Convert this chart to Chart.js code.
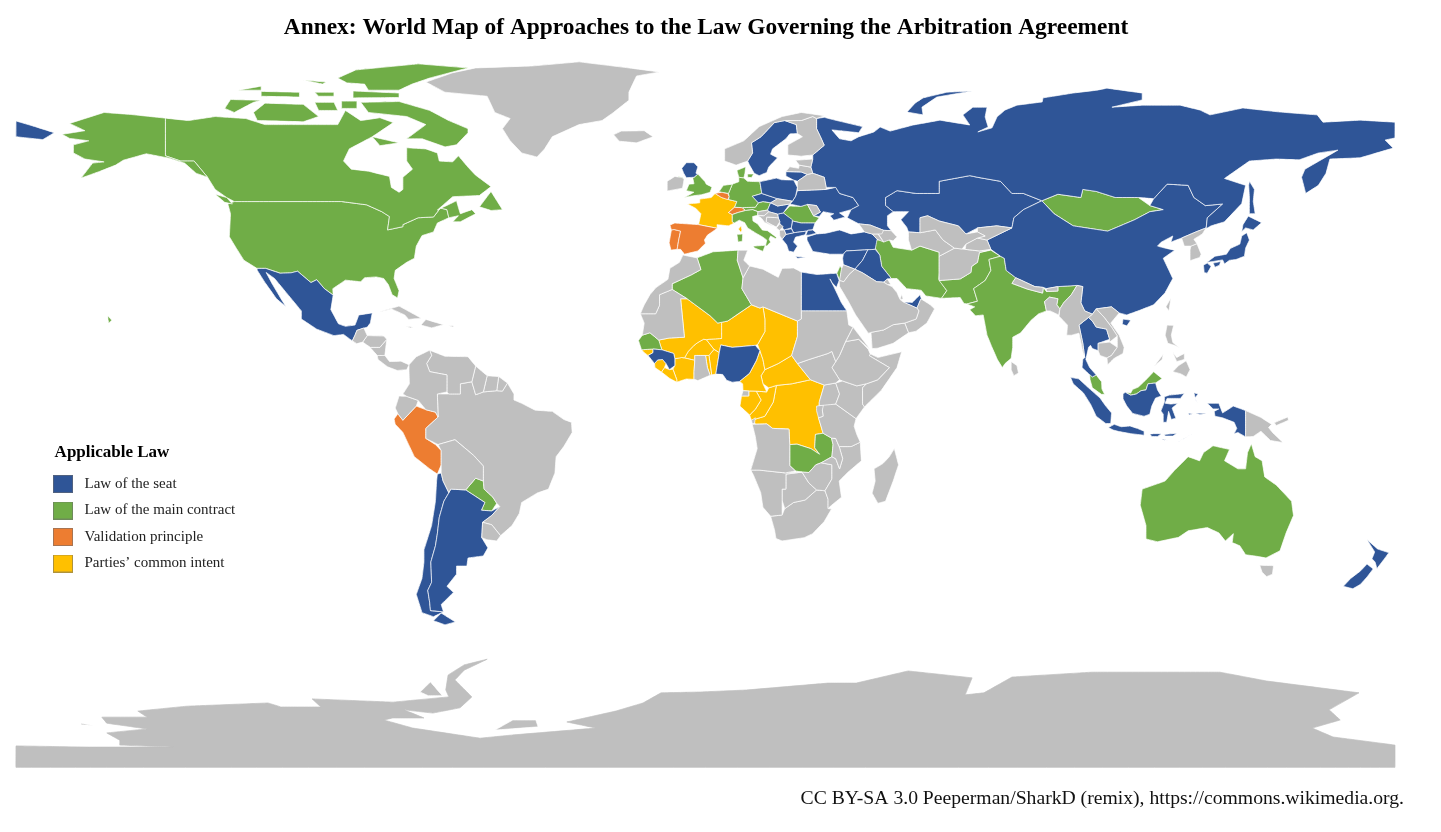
<!DOCTYPE html>
<html><head><meta charset="utf-8"><title>World Map of Approaches</title>
<style>html,body{margin:0;padding:0;background:#fff}canvas{display:block}</style>
<script src="https://cdn.jsdelivr.net/npm/chart.js@4"></script></head>
<body><canvas id="c" width="1441" height="832"></canvas>
<script>
const categories = ["Law of the seat","Law of the main contract","Validation principle","Parties’ common intent"];
const colours = ["#2F5597","#70AD47","#ED7D31","#FFC000"];
const otherColour = "#BFBFBF";

const seatLand = [
 ["Russia",[[28,60.5],[31,62.9],[30,65],[29,67],[29,69.5],[31,69.8],[33,69.3],[41,67.5],[40,66],[35,66.5],[33,66.7],[35,64.5],[38,64],[40,65],[44,66.2],[45.6,67.4],[48.2,66.4],[54.2,67.9],[61.2,69.1],[69,67.9],[67.2,70.4],[69.8,72.3],[73.5,72.3],[73,69.9],[73.8,67.4],[71.1,66.2],[74.8,67.2],[76.1,69.9],[78.2,71.6],[81.3,72.8],[87.9,73.6],[88.1,74.6],[96,75.8],[102.2,76.5],[104.8,77],[114,75.8],[114,74.1],[106.1,72.3],[114.2,72.8],[123.9,72.8],[129.1,71.6],[131.7,70.4],[140.3,72.1],[150,71.1],[159.7,70.4],[161.2,68.6],[170.9,69.1],[180,68.6],[180,64.7],[177.4,64.2],[179.5,62.2],[170.9,59.8],[163,59.5],[162,56],[160,53],[156.7,51],[155.6,55],[156.5,57],[165.1,61.7],[160,61],[155,59.3],[149,59.5],[142,59],[135.5,54.7],[141,53],[140,48.5],[135.5,44],[132,43],[130.7,42.3],[131,45],[135,48.4],[130.5,48],[127.5,50],[126,53],[120.5,53.3],[117,49.7],[113,50],[107,50],[102,51.5],[98.5,52],[98,50],[92,50.8],[87.8,49.2],[83,51],[80,51],[77,54],[71,55],[69,55.4],[61,54],[61,51],[55,51],[50,51.7],[47,50],[47,48],[49,46.5],[47.5,45.5],[47.5,43],[48.5,41.8],[46.5,41.9],[43,43.2],[40,43.5],[37,45],[38,47],[40,48],[38.5,50],[35,51],[34,52.5],[31.5,52.5],[31,55],[28,56],[27.5,57.5],[28,59.5]]],
 ["Chukotka",[[-180,68.9],[-175,67.5],[-170,66],[-173,64.3],[-180,65]]],
 ["Novaya Zemlya",[[52.6,71.1],[56.8,70.4],[56.5,72.3],[60.4,74.8],[69.6,76.3],[63,76],[56.8,74.6],[54.7,73.3]]],
 ["Sakhalin",[[142,54],[143.3,52],[143,49],[143.5,46],[142,46],[142,50],[141.8,53]]],
 ["China",[[73.5,39.5],[80,42.5],[80.5,45],[83,47],[87.8,49.2],[91,46],[96,43],[105,41.7],[112,44.5],[116,46.5],[119.5,47],[116,48],[117,49.7],[120.5,53.3],[126,53],[127.5,50],[130.5,48],[135,48.4],[131,45],[130.7,42.5],[128,41.5],[124.3,40],[121.5,39],[122,40.5],[119,39],[118,38],[120,37.5],[122.5,37],[119.5,35],[121,32],[122,30],[120,26.5],[117,23.5],[113.5,22.2],[110,21],[108,21.5],[106,23],[102,22.5],[101,21.2],[99,22],[98,24],[98.5,28],[97,28.3],[92,28],[89,27.5],[88.2,27.8],[86,28],[81,30.2],[78.5,32],[78,35],[77,35.5],[74.5,37.2]]],
 ["Hainan",[[109,20],[111,19.7],[110,18.3],[108.8,18.7]]],
 ["Honshu",[[130.9,34],[133,35.5],[136,36],[137,37.4],[139.5,38.5],[140,40.5],[141.3,41.3],[142,39.5],[141,37.5],[140.7,35.5],[138.5,34.7],[136.8,34.5],[135.5,33.6],[135,34.6],[132.5,34.2]]],
 ["Hokkaido",[[140,41.6],[140.3,43.3],[141.7,45.4],[145.2,43.8],[143,42],[141,42.5]]],
 ["Kyushu",[[130,33.3],[131,33.8],[132,33],[131,31.3],[130.2,31.5]]],
 ["Shikoku",[[132.5,33.8],[134.5,34.2],[134.2,33.3],[133,32.8]]],
 ["Kazakhstan",[[47,48],[47,50],[50,51.7],[55,51],[61,51],[61,54],[69,55.4],[71,55],[77,54],[80,51],[83,51],[87.8,49.2],[83,47],[80.5,45],[80,42.5],[76,43],[71,42.5],[68,41],[66,43],[61,44.2],[58,45.5],[56,45],[56,41.3],[53,41.5],[52.5,42.7],[51,44.5],[53,46.5],[49,46.5]]],
 ["Iraq",[[42.4,37.1],[44.3,37.2],[45.5,35.8],[46,33],[48.5,30],[47.5,29.9],[46.5,29.1],[44.7,29.2],[41,31.4],[39,32.3],[41,34.5]]],
 ["Syria",[[36,36],[36.7,36.8],[42.4,37.1],[41,34.5],[39,32.3],[36,33.4],[35.8,35]]],
 ["Turkey",[[26.5,39.5],[26.5,40.3],[29,41],[31.5,41.2],[35,42],[38,41],[41.5,41.5],[43.5,41],[44.8,39.7],[44.3,37.2],[42.4,37.1],[36.7,36.8],[36,36],[32.5,36],[30.5,36.3],[28,36.7],[27.3,38]]],
 ["Thrace",[[26.2,40.7],[26.7,41.9],[28,42],[29,41.2],[27,40.7]]],
 ["UAE",[[51.6,24.2],[54,24.1],[56,26],[56.4,24.9],[56.2,24.9],[55.2,22.7]]],
 ["Egypt",[[25,31.6],[29,31],[32.3,31.2],[34.2,31.3],[34.9,29.5],[34.2,27.8],[33,29],[32.5,29.9],[33.5,28],[35.5,24],[36.9,22],[25,22]]],
 ["Thailand",[[97.5,18.5],[100,20.4],[101,19.5],[102,18],[104.7,17.5],[105.5,15],[102.5,14],[102.5,12.2],[101,12.7],[100.5,13.5],[100,13],[99.3,10],[100.3,8],[102,6.2],[101,5.7],[100,6.5],[98.3,8],[98.5,10],[99,10.5],[98.5,14]]],
 ["Kalimantan",[[109,1.5],[109.6,1.9],[111,1.2],[112.5,1.5],[113.7,2.3],[115,2.5],[115.5,4],[117.5,4.2],[118,2.5],[119,1],[117.5,0.5],[116.5,-1.5],[116,-3.5],[114.5,-4],[111.5,-3.3],[110,-1.5],[109,0.3]]],
 ["Sumatra",[[95.3,5.6],[97.5,5.2],[100,3],[103,0.5],[104.5,-1.5],[106,-3.2],[105.8,-5.8],[104.5,-5.8],[102,-4],[100.5,-1],[98.7,1.7],[96,4]]],
 ["Java",[[105.2,-6.8],[106.7,-6],[108.5,-6.6],[110.8,-6.4],[112.7,-7],[114.5,-7.7],[114.5,-8.7],[111,-8.3],[108,-7.8],[106.4,-7.4]]],
 ["Sulawesi",[[119.8,0.8],[121,1.2],[125,1.6],[124,0.4],[120.5,0.4],[120,-0.8],[121.5,-1],[123.3,-0.8],[121.8,-2],[122.8,-4.5],[121.6,-4.8],[120.9,-2.8],[120.4,-5.5],[119.5,-5.5],[119.5,-3.5],[118.9,-2.7],[119.8,-0.5]]],
 ["Lombok Sumbawa",[[116,-8.4],[117,-8.3],[119,-8.3],[118,-9],[116.5,-9]]],
 ["Flores",[[119.8,-8.5],[123,-8.2],[122,-8.9],[120,-8.9]]],
 ["Sumba",[[119.2,-9.6],[120.8,-10],[119.5,-9.9]]],
 ["Timor",[[123.5,-10.3],[127,-8.4],[125,-9.5]]],
 ["Halmahera",[[127.5,1.8],[128,0],[128.5,-0.8],[127.8,0.5],[128.6,1.5]]],
 ["Seram",[[128,-3.2],[130.8,-3.3],[129,-3.6]]],
 ["Buru",[[126,-3.2],[127.2,-3.4],[126.3,-3.7]]],
 ["Papua",[[131,-0.8],[134,-0.8],[135,-3.2],[137.8,-1.5],[141,-2.6],[141,-9.1],[139,-8],[138,-8.3],[138.7,-7],[138,-5.5],[135,-4.4],[133,-4],[132.8,-2.8],[134,-2.2],[132.5,-2.2]]],
 ["North Island",[[172.7,-34.5],[175.5,-36.8],[178.4,-37.7],[177,-39.5],[175.3,-41.6],[174.8,-40],[174,-39.2],[174.7,-37.5]]],
 ["South Island",[[172.7,-40.5],[174.3,-41.7],[172.7,-43.7],[171,-45.5],[169,-46.6],[166.5,-46],[168.5,-44],[171,-42.2]]],
 ["Mexico",[[-117.1,32.5],[-114.8,32.5],[-111,31.3],[-108.2,31.4],[-106.5,31.8],[-103,29],[-101.5,29.7],[-99.5,27.5],[-97.2,25.9],[-97.8,22.3],[-95.8,18.8],[-94,18.2],[-91.5,18.5],[-90.5,21],[-87,21.5],[-87.5,19],[-88.3,18],[-91,17.2],[-91.5,16],[-92.2,14.6],[-94.5,16.2],[-97,15.9],[-101.5,17.5],[-105.5,20],[-105.5,22],[-109,26],[-112.5,30],[-114.7,31.5],[-113,28.5],[-110.5,24.5],[-109.5,23],[-112,25],[-115,29],[-117,32]]],
 ["Argentina",[[-66.5,-22],[-62.6,-22.2],[-57.6,-25.3],[-58.5,-27.2],[-55.8,-27.4],[-53.7,-26.3],[-55.8,-28.5],[-58.2,-30.2],[-58.4,-34],[-56.8,-36.5],[-58,-38.5],[-62,-39],[-62.3,-41],[-65,-41],[-65,-43],[-67.5,-46],[-65.8,-47.5],[-69,-50.5],[-68.4,-52.3],[-71.8,-52],[-72,-50],[-72.5,-47],[-71.5,-45],[-71.7,-40],[-70.5,-36],[-70,-33],[-69.5,-29],[-68.3,-25],[-67,-22.9]]],
 ["Chile",[[-70,-18.3],[-69,-18],[-68.5,-20],[-67,-22.9],[-68.3,-25],[-69.5,-29],[-70,-33],[-70.5,-36],[-71.7,-40],[-71.5,-45],[-72.5,-47],[-72,-50],[-71.8,-52],[-68.4,-52.3],[-71,-53.5],[-74,-52.5],[-75.5,-48],[-74,-44],[-73.5,-40],[-73.5,-37],[-71.5,-31],[-70.5,-25],[-70.2,-20]]],
 ["Tierra del Fuego",[[-69,-52.6],[-65.3,-54.8],[-68,-55.5],[-71,-54.5]]],
 ["Scotland",[[-5,58.6],[-3,58.6],[-2,57.6],[-2.5,56],[-2,55.8],[-3,55],[-5,54.9],[-5.7,56],[-6.2,57.2]]],
 ["Sweden",[[11,59],[12.3,61],[12,63.5],[14.5,65],[18,68.5],[20.7,69],[23.7,68],[24,65.8],[22,65.7],[21,64.5],[17.5,62],[17,60.7],[18.8,59.8],[16.5,57.5],[16,56.2],[14,55.4],[12.7,56],[11.5,58]]],
 ["Poland",[[14.2,53.9],[18.5,54.8],[19.8,54.4],[23,54.3],[24,52.5],[23.5,50.3],[22.7,49.1],[18.8,49.7],[14.7,51]]],
 ["Czechia",[[12.2,50.3],[14.7,51],[18.8,49.7],[17,48.7],[15,49],[13.8,48.7]]],
 ["Hungary",[[16.2,46.9],[17,48.7],[18.8,47.9],[22,48.4],[20.3,46.2],[18.8,45.9],[16.5,46.5]]],
 ["Serbia",[[18.8,45.9],[20.3,46.2],[22.7,44.5],[22.4,42.5],[20.5,42],[19.4,43.5],[19.4,44],[19,45]]],
 ["North Macedonia",[[20.5,42],[22.4,42.3],[23,41.3],[21,40.9]]],
 ["Greece",[[20,39.7],[21,40.9],[23,41.3],[26.3,41.7],[26,40.8],[23.5,40.2],[23,39],[24,38],[23,36.5],[21.7,36.8],[21.2,38.3]]],
 ["Crete",[[23.5,35.5],[26.2,35.2],[24,35]]],
 ["Bulgaria",[[22.7,44.2],[25,43.7],[28.6,43.7],[28,42],[26.7,41.9],[26.3,41.7],[23,41.3],[22.4,42.5]]],
 ["Ukraine",[[22.7,49.1],[23.5,50.3],[24,51.7],[31.5,52],[34,52.5],[35,51],[38.5,50],[40,48],[38,47],[35,46.2],[36.5,45.2],[33.5,44.4],[32.5,45.5],[33.5,46],[30.7,46.5],[29.7,45.3],[28.2,45.5],[30,46.4],[29,48],[26.6,48.3],[24.9,47.8],[22,48.4]]],
 ["Lithuania",[[21,55.3],[21,56.4],[25,56.3],[26.6,55.7],[24,54],[23,54.3]]],
 ["Guinea",[[-15,11],[-13.7,11.7],[-13.7,12.6],[-11.4,12.4],[-8.3,11.5],[-8,10.2],[-8,8.5],[-9.4,7.5],[-10.3,9],[-11.2,10],[-12.5,9.9],[-13.3,9]]],
 ["Nigeria",[[2.7,6.4],[3.6,11.7],[4,13.6],[7,13],[13,13.5],[14.2,12.2],[13.3,9.8],[11.5,6.6],[8.9,4.6],[7,4.4],[5.5,4.9],[4.5,6.3]]]
];

const contractLand = [
 ["Alaska",[[-141,69.6],[-141,60.3],[-137,59],[-133.5,59],[-130,55],[-133,56],[-136,58.5],[-140,59.7],[-146,60.8],[-149,60],[-152,59.2],[-154,58],[-158,56.5],[-163,54.8],[-160,58.5],[-157,58.8],[-162,59.5],[-165,61],[-165,63],[-161,64],[-166,64.6],[-168,65.6],[-162,66.5],[-166,68.3],[-157,71],[-150,70.5]]],
 ["Canada",[[-141,69.6],[-135,69],[-128,70],[-120,69.5],[-115,68],[-108,68],[-102,68],[-96,68],[-94,71.5],[-90,69],[-85,69.7],[-81.5,68.5],[-87,65],[-93,62],[-94.5,59],[-92.5,57],[-88,56.5],[-82.5,55.2],[-82,52.5],[-80,51.3],[-79,52],[-79,55],[-76.5,57],[-78,59],[-78,62.3],[-73,62],[-70,61],[-69.5,59],[-66,58.8],[-64.5,60.3],[-62,57.5],[-60,55.5],[-56,52.7],[-59,50.5],[-66,50.2],[-70,46.9],[-65,49.2],[-64.5,47.5],[-64,46],[-61,47],[-60,46],[-64,44],[-66,44],[-64.5,45.5],[-67,45],[-67.5,47],[-69.2,47.4],[-71,45.2],[-75,45],[-79,43.3],[-79,42.8],[-83,42],[-82.5,45.3],[-84.5,46.5],[-88.5,48.2],[-95,49],[-123,49],[-125,50],[-128,52],[-130,55],[-133.5,59],[-137,59],[-141,60.3]]],
 ["Newfoundland",[[-59,47.7],[-56,51.5],[-53,47],[-56,46.8]]],
 ["Vancouver Island",[[-128,50.8],[-125,50],[-123.5,48.4],[-125.5,48.8]]],
 ["Baffin",[[-62,66],[-65,63],[-68,62.5],[-74,64.5],[-78,64.5],[-73,68],[-78,70],[-88,71],[-90,73.5],[-80,73.7],[-72,71.5],[-67,69],[-62,67]]],
 ["Victoria Island",[[-117,69],[-105,68.7],[-101,70],[-105,73],[-115,73.3],[-118,71]]],
 ["Banks Island",[[-123,71],[-118,73.5],[-116,74],[-124,74.2],[-125.5,72]]],
 ["Southampton",[[-87,65],[-80,63.5],[-85,62.8]]],
 ["Ellesmere",[[-96,79.5],[-91.3,81.5],[-75,83],[-62,82],[-72,79.5],[-76.6,78],[-80,76.5],[-88,76.5],[-89,78],[-93.6,78.3]]],
 ["Devon",[[-92,76.3],[-80,75.8],[-80,74.7],[-92,74.6]]],
 ["Melville",[[-116,76.2],[-106,76],[-106,74.8],[-116,75]]],
 ["Prince Patrick",[[-122,76.5],[-116,77.5],[-116,76.5]]],
 ["Bathurst",[[-102,76],[-97,76],[-97,75],[-101,75]]],
 ["Somerset",[[-95,73.8],[-91,73.8],[-91,72],[-95,72]]],
 ["Prince of Wales",[[-102,73.5],[-97,73.5],[-96,71.5],[-101,71.5]]],
 ["Ellef Ringnes",[[-105,79],[-99,78.5],[-100,78]]],
 ["USA",[[-123,49],[-95,49],[-88.5,48.2],[-84.5,46.5],[-82.5,45.3],[-83,42],[-79,42.8],[-79,43.3],[-75,45],[-71,45.2],[-69.2,47.4],[-67.5,47],[-67,45],[-70,43.7],[-71,41.5],[-74,40.6],[-75.5,38],[-76,35],[-78,34],[-81,32],[-81.3,30],[-80,27],[-80.4,25.2],[-81.8,26],[-82.8,28.5],[-84,30],[-86,30.4],[-89,30.2],[-90,29.2],[-94,29.6],[-97.3,27.5],[-97.2,25.9],[-99.5,27.5],[-101.5,29.7],[-103,29],[-106.5,31.8],[-108.2,31.4],[-111,31.3],[-114.8,32.5],[-117.1,32.5],[-120.5,34.5],[-122.5,37.5],[-124.3,40.3],[-124,46],[-124.7,48.4]]],
 ["Hawaii",[[-156,20.8],[-155,19.7],[-155.8,19],[-156,20]]],
 ["Mongolia",[[87.8,49.2],[92,50.8],[98,50],[98.5,52],[102,51.5],[107,50],[113,50],[116,48],[119.5,47],[116,46.5],[112,44.5],[105,41.7],[96,43],[91,46]]],
 ["India",[[78,35],[78.5,32],[81,30.2],[80,28.8],[84,27.4],[88,26.4],[88.2,27.8],[89,26.8],[92,26.9],[92,28],[97,28.3],[95.5,26],[93.5,24],[92.5,22.5],[91.7,23.5],[92,25],[89.8,25.4],[88.5,24.3],[89,22],[87,21.3],[85,19.7],[82.3,16.6],[80.2,15.5],[80.2,13],[79.8,10.3],[78.2,9],[77.5,8],[76.2,10],[74.8,13],[73.5,16],[72.8,19.5],[72.5,21],[70.5,20.8],[69,22.3],[70.3,23],[68.2,23.7],[71,24.4],[70,27.5],[73,29.5],[74.5,32],[74,34.7],[77,35.5]]],
 ["Pakistan",[[74.5,37],[71.5,36.4],[71,34],[69.5,33],[69.3,31.5],[66.5,29.9],[61,29.5],[63,27],[61.6,25.1],[66.5,25.3],[67.5,23.8],[68.2,23.7],[71,24.4],[70,27.5],[73,29.5],[74.5,32],[74,34.7],[77,35.5]]],
 ["Iran",[[44.5,39.5],[48,39.5],[49,37.7],[53.8,37],[56,38],[61,36.5],[61,31.5],[60.9,29.8],[63,27],[61.6,25.1],[57.5,25.7],[56.3,27.1],[52.5,27.5],[50,30],[48.5,30],[46,33],[45.5,35.8],[44.3,37.5]]],
 ["Israel",[[34.3,31.3],[35.1,33],[35.6,32.5],[35,29.5]]],
 ["Peninsular Malaysia",[[100.3,6.5],[101,5.7],[102,6.2],[103.4,4.5],[103.5,2.7],[104.2,1.4],[103.4,1.4],[101,3],[100.4,5]]],
 ["East Malaysia",[[109.6,1.9],[111,1.2],[112.5,1.5],[113.7,2.3],[115,2.5],[115.5,4],[117.5,4.2],[119.2,5.3],[117,7],[115,5],[113,3.2],[111.5,2.6],[111,1.7]]],
 ["Australia",[[114,-22],[113.5,-26],[115,-31],[115,-34.3],[118,-35],[123.5,-33.9],[126,-32.3],[131,-31.5],[134,-32.8],[135.7,-34.8],[137.8,-33],[137.5,-35.2],[139.5,-36],[141,-38.2],[144,-38.6],[146.3,-39],[150,-37.2],[151.5,-33],[153.5,-28.5],[153,-25],[149,-21],[146,-19],[145.3,-15],[143.5,-14],[142.5,-10.8],[141.5,-13],[141,-17],[139,-17],[135.5,-15],[136.8,-12.2],[132.5,-11.3],[130,-13],[129,-15],[126,-14],[122.5,-17.3],[120,-20]]],
 ["Paraguay",[[-62.6,-22.2],[-60,-19.3],[-58,-20],[-57.8,-22],[-55.5,-24],[-54.5,-25.5],[-55.8,-27.4],[-58.5,-27.2],[-57.6,-25.3]]],
 ["Algeria",[[-8.7,28.7],[-3.7,30.9],[-1.2,32.2],[-2.2,35.1],[2,36.6],[8.5,37],[8.3,34.5],[9.8,30.2],[9.5,27.5],[12,23.5],[5.8,19.5],[3.2,19],[1.2,20.8],[-4.8,25],[-8.7,27.3]]],
 ["Senegal",[[-17.5,14.7],[-16.5,16],[-14.5,16.6],[-12.2,14.8],[-11.4,12.4],[-13.7,12.6],[-16.7,12.4]]],
 ["Gambia",[[-16.8,13.5],[-14,13.6],[-14,13.2],[-16.8,13.1]]],
 ["Zambia",[[22,-11],[23.9,-10.9],[27.5,-12],[29.8,-13.4],[28.5,-11.8],[28.7,-8.5],[30.7,-8.2],[32.9,-9.4],[33.3,-11],[33,-14],[30.2,-15.5],[28.8,-16],[27,-17.9],[25.2,-17.8],[23.5,-17.5],[22,-16.2]]],
 ["England and Wales",[[-3,55],[-2,55.8],[-0.2,54],[0.2,53.3],[1.7,52.6],[1.2,51.3],[-1,50.7],[-3.5,50.4],[-5.5,50],[-3,51.3],[-5,51.7],[-4.3,53.3],[-3,53.4],[-3.3,54.7]]],
 ["Northern Ireland",[[-8,54.5],[-7,55.2],[-6,55],[-5.6,54.4],[-6.5,54]]],
 ["Italy",[[7,45.8],[8.5,46.3],[10.5,46.8],[12.3,47],[13.7,46.5],[13.6,45.6],[12.3,45.3],[12.4,44.2],[13.6,43.5],[14.8,42],[16.2,41.8],[18.5,40.2],[18.4,39.8],[17,40.5],[16.6,39.7],[17,39],[16,38],[15.7,38.2],[16,39.5],[15,40.2],[13,41.3],[11,42.5],[10.2,43.8],[8.8,44.4],[7.5,43.7],[7,44]]],
 ["Sicily",[[12.5,38],[15.6,38.2],[15,36.7],[12.7,37.6]]],
 ["Sardinia",[[8.2,40.9],[9.7,41],[9.6,39.2],[8.5,39]]],
 ["Netherlands",[[3.5,51.4],[4.7,53],[7,53.3],[6,51],[4.2,51.3]]],
 ["Germany",[[6,51],[7,53.3],[8.7,53.9],[8.7,55],[10,54.8],[11,54],[14.2,53.9],[14.7,51],[12.2,50.3],[13.8,48.7],[13,47.6],[9.6,47.5],[7.6,47.6],[8.2,49],[6,49.5],[6.2,50.2]]],
 ["Jutland",[[8.2,56.7],[10.5,57.6],[10.3,56],[10,54.8],[8.7,55]]],
 ["Zealand",[[11,55.8],[12.6,55.8],[12,54.9],[11,55]]],
 ["Austria",[[9.6,47.5],[13,47.6],[13.8,48.7],[15,49],[17,48.7],[16.2,46.9],[13.7,46.5],[12.3,47],[10.5,46.8]]],
 ["Romania",[[20.3,46.2],[22,47.9],[24.9,47.8],[26.6,48.3],[28.2,45.5],[29.7,45],[28.6,43.7],[25,43.7],[22.7,44.2]]]
];

const validationLand = [
 ["Spain",[[-9.3,43.2],[-8,43.7],[-1.8,43.3],[3.1,42.4],[0.5,40.7],[-0.3,39.5],[0,38.7],[-2,36.8],[-5.5,36],[-6.5,37.2],[-7.4,37.2],[-7,39.5],[-6.5,41.7],[-8.2,42.1],[-8.9,42]]],
 ["Portugal",[[-8.9,42],[-8.2,42.1],[-6.5,41.7],[-7,39.5],[-7.4,37.2],[-9,37],[-9.5,38.8]]],
 ["Switzerland",[[6,46.3],[7.6,47.6],[9.6,47.5],[10.4,46.8],[8.5,46.3],[7,45.8]]],
 ["Belgium",[[2.5,51],[4.2,51.3],[5.8,51],[6.2,50.2],[5.8,49.5],[4.2,50]]],
 ["Peru",[[-81.3,-4.7],[-80.3,-3.4],[-79,-5],[-75.5,-1.5],[-73,-2.4],[-70.5,-3],[-69.8,-4.2],[-73,-7],[-73,-9.5],[-70.5,-11],[-69,-12.5],[-69,-16],[-70,-18.3],[-72,-17],[-76,-14],[-79,-8],[-81,-6]]]
];

const intentLand = [
 ["France",[[-4.7,48.4],[-1.5,48.7],[-1.5,49.6],[1.5,50],[2.5,51],[4.2,50],[6,49.5],[8.2,49],[7.6,47.6],[6,46.3],[7,45.8],[7,44],[7.5,43.7],[6,43],[3,43.3],[3.1,42.4],[-1.8,43.3],[-1.2,46],[-2.5,47.3]]],
 ["Corsica",[[9.3,43],[9.5,42],[9.2,41.4],[8.6,42.2]]],
 ["Mali",[[-6.5,25],[-4.8,25],[1.2,20.8],[3.2,19],[4.2,19.2],[4.2,16.8],[4.2,15.2],[1,15],[0.2,14.9],[-0.5,15],[-2,14.2],[-3,13.5],[-4.5,12],[-5.5,10.4],[-6.2,10.5],[-8,10.2],[-8.3,11.5],[-11.4,12.4],[-12.2,14.8],[-9.5,15.3],[-5.5,15.5]]],
 ["Guinea-Bissau",[[-16.7,12.4],[-13.7,12.6],[-13.7,11.7],[-15,11],[-16,11.7]]],
 ["Sierra Leone",[[-13.3,9],[-12.5,9.9],[-11.2,10],[-10.3,9],[-10.7,8],[-11.5,6.9],[-13.2,8]]],
 ["Liberia",[[-11.5,6.9],[-10.7,8],[-9.4,7.5],[-8.5,7.6],[-7.5,5],[-7.5,4.4],[-9.3,5.3]]],
 ["Ivory Coast",[[-7.5,4.4],[-7.5,5],[-8.5,7.6],[-8,8.5],[-8,10.2],[-6.2,10.5],[-5.5,10.4],[-2.8,9.8],[-3,7],[-3,5.1],[-5,5.2]]],
 ["Burkina Faso",[[-5.5,10.4],[-4.5,12],[-3,13.5],[-2,14.2],[-0.5,15],[0.2,14.9],[2.2,12.5],[0.9,11],[0,11],[-2.8,11],[-2.8,9.8]]],
 ["Togo",[[0,11],[0.9,11],[1.6,6.2],[1.2,6.1],[0.5,8]]],
 ["Benin",[[0.9,11],[2.2,12.5],[3.6,11.7],[2.7,6.4],[1.6,6.2]]],
 ["Niger",[[4.2,19.2],[5.8,19.5],[12,23.5],[14.2,22.7],[15,23],[15.5,20],[15.5,16.9],[13.6,13.7],[13,13.5],[7,13],[4,13.6],[3.6,11.7],[2.2,12.5],[0.2,14.9],[1,15],[4.2,15.2],[4.2,16.8]]],
 ["Chad",[[15,23],[24,19.5],[24,15.7],[22.5,11],[19,9],[15.5,7.5],[15,10],[14.2,12.2],[13.6,13.7],[15.5,16.9],[15.5,20]]],
 ["Cameroon",[[8.9,4.6],[11.5,6.6],[13.3,9.8],[14.2,12.2],[15,10],[15.5,7.5],[14.5,6],[15,4],[16,2],[13.2,2.2],[9.8,2.3],[9.7,4]]],
 ["Central African Republic",[[14.5,6],[15.5,7.5],[19,9],[22.5,11],[24,9],[27.4,5],[22.5,4],[18.5,3.6],[16.5,3],[15,4]]],
 ["Gabon",[[9.4,1],[11.3,1],[11.3,2.2],[13.2,2.2],[14.5,0],[13,-2.3],[11.5,-3.7],[9,-1.5]]],
 ["Congo",[[13.2,2.2],[16,2],[16.5,3],[18.5,3.6],[17.7,-0.5],[15.5,-4],[12,-5],[11.5,-3.7],[13,-2.3],[14.5,0]]],
 ["DR Congo",[[12.2,-6],[13,-5.8],[12,-5],[15.5,-4],[17.7,-0.5],[18.5,3.6],[22.5,4],[27.4,5],[31,3.7],[29.7,-0.5],[29.5,-4.4],[30.7,-8.2],[28.7,-8.5],[28.5,-11.8],[29.8,-13.4],[27.5,-12],[23.9,-10.9],[22,-11],[21.8,-7.2],[17.5,-7],[16,-5.9]]]
];

const otherLand = [
 ["Greenland",[[-73,78.5],[-66,80.8],[-60,82],[-45,82.5],[-33,83.5],[-20,82],[-12,81],[-18,80],[-20,76],[-20,74],[-24,71],[-27,69],[-33,68],[-40,65],[-42,62],[-44,60],[-48,61],[-51,64],[-53,67],[-51,69.5],[-55,71],[-57,75],[-68,76],[-71,77.5]]],
 ["Iceland",[[-24,65.5],[-22,66.4],[-16,66.5],[-13.7,65],[-18,63.5],[-22.5,63.9]]],
 ["Ireland",[[-10,54],[-8,55.2],[-6,54.9],[-5.6,54.4],[-6,52.3],[-10,51.6]]],
 ["Norway",[[5,59],[5,62],[10,64],[14,67.5],[20,70],[25,71],[31,70.2],[29,69.5],[28,70],[25,69],[20.7,69],[18,68.5],[14.5,65],[12,63.5],[12.3,61],[11,59],[8,58]]],
 ["Finland",[[21.5,60.5],[25,60.2],[28,60.5],[31,62.9],[30,65],[29,67],[29,69.5],[28,70],[25,69],[20.7,69],[23.7,68],[24,65.8],[25.3,65],[21.5,63],[21.5,61]]],
 ["Estonia",[[23.5,59.2],[28,59.5],[27.5,57.5],[24.5,58]]],
 ["Latvia",[[21,56.4],[22,57.6],[24.3,57.2],[24.5,58],[27.5,57.5],[28,56],[26.6,55.7],[25,56.3]]],
 ["Belarus",[[24,52.5],[24,51.7],[31.5,52],[31.5,52.5],[31,55],[28,56],[26.6,55.7],[24,54]]],
 ["Moldova",[[26.6,48.3],[29,48],[30,46.4],[28.2,45.5]]],
 ["Slovakia",[[17,48.7],[18.8,49.7],[22.5,49.1],[22,48.4],[18.8,47.9]]],
 ["Slovenia",[[13.6,45.6],[13.7,46.5],[16.2,46.9],[16.5,46.5],[15.3,45.5]]],
 ["Croatia",[[13.6,45.5],[15.3,45.5],[16.5,46.5],[18.8,45.9],[19,45],[16,45.2],[15.8,44],[18.5,42.5],[15.5,43.8],[14.5,45]]],
 ["Bosnia",[[16,45.2],[19,45],[19.4,44],[18.5,42.7],[15.8,44]]],
 ["Montenegro",[[18.5,42.5],[19.4,43.5],[20.3,42.8],[19.3,41.9]]],
 ["Albania",[[19.3,41.9],[20.5,42],[21,40.9],[20,39.7],[19.4,40.5]]],
 ["Georgia",[[40,43.5],[43,43.2],[46.5,41.9],[46,41],[43.5,41],[41.5,41.5]]],
 ["Armenia",[[43.5,41],[45,41],[46.5,39],[44.8,39.7]]],
 ["Azerbaijan",[[45,41.2],[46.5,41.9],[48.5,41.8],[50,40.3],[49,39.3],[48,39.5],[46.5,39]]],
 ["Uzbekistan",[[56,45],[58,45.5],[61,44.2],[66,43],[68,41],[71,41.5],[73,40.5],[71,40],[68,38.5],[67,37.3],[65,37.5],[62,39.5],[60,42],[56,41.3]]],
 ["Turkmenistan",[[53,41.5],[56,41.3],[60,42],[62,39.5],[65,37.5],[61,35.5],[61,36.5],[56,38],[53.8,37],[53,39.5]]],
 ["Kyrgyzstan",[[71,42.5],[76,43],[80,42.5],[73.5,39.5],[71,40],[73,40.5],[71,41.5]]],
 ["Tajikistan",[[68,38.5],[71,40],[73.5,39.5],[74.5,37.2],[71.5,36.8],[67.8,37.2]]],
 ["Afghanistan",[[61,35.5],[65,37.5],[67.8,37.2],[71.5,36.8],[74.5,37.2],[71.5,36.4],[71,34],[69.5,33],[69.3,31.5],[66.5,29.9],[61,29.5],[61,31.5]]],
 ["Nepal",[[80,28.8],[81,30.2],[86,28],[88.2,27.8],[88,26.4],[84,27.4]]],
 ["Bhutan",[[89,26.8],[89,27.5],[92,28],[92,26.9]]],
 ["Bangladesh",[[88.5,24.3],[89.8,25.4],[92,25],[91.7,23.5],[92.5,22.5],[92.2,21],[90,22],[89,22]]],
 ["Myanmar",[[97,28.3],[98.5,28],[98,24],[99,22],[101,21.2],[100,20.4],[97.5,18.5],[98.5,14],[99,10.5],[98.5,12],[97.5,16.5],[95.5,16],[94.3,16],[94.5,18.5],[92.3,20.7],[92.5,22.5],[93.5,24],[95.5,26]]],
 ["Laos",[[101,21.2],[102,22.5],[104,20.5],[106,18],[107.5,15.8],[105.5,14.3],[105.5,15],[104.7,17.5],[102,18],[101,19.5],[100,20.4]]],
 ["Vietnam",[[102,22.5],[106,23],[108,21.5],[105.8,19],[108,16],[109.3,13],[109,11.5],[106.7,10.3],[105,8.7],[104.8,10.4],[106,11],[107.5,13],[107.5,15.8],[106,18],[104,20.5]]],
 ["Cambodia",[[102.5,14],[105.5,14.3],[107.5,13],[106,11],[104.8,10.4],[103,11],[102.5,12.2]]],
 ["North Korea",[[124.3,40],[128,41.5],[130.7,42.5],[129.7,41],[127.5,39.7],[128.3,38.6],[126.7,38],[125,38]]],
 ["South Korea",[[126.7,38],[128.3,38.6],[129.4,36],[129,35.2],[126.5,34.4],[126.5,37]]],
 ["Taiwan",[[121.5,25.2],[121,22],[120.2,23]]],
 ["Luzon",[[120.5,18.5],[122.2,18.4],[121.6,16],[122,14.2],[124,12.7],[122.5,13.5],[120.7,14],[120,16]]],
 ["Mindanao",[[122,7],[123.5,8.5],[125.5,9.7],[126.5,7.5],[125.5,5.7],[124,6.5]]],
 ["Palawan",[[117.2,8.4],[119.5,11.3],[119.2,10]]],
 ["Visayas",[[122,11.8],[123,10.5],[125,11.5],[125,10],[123,9.5]]],
 ["Sri Lanka",[[79.8,9.5],[81.3,8.5],[81.7,6.7],[80.5,6],[79.8,7.5]]],
 ["Papua New Guinea",[[141,-2.6],[145,-4.3],[147.8,-6],[147,-6.8],[148,-8],[150.8,-10.5],[147.5,-10],[145,-7.7],[143,-9],[141,-9.1]]],
 ["New Britain",[[148.5,-5.6],[152,-4.2],[152.2,-5],[149,-6.3]]],
 ["Tasmania",[[144.7,-40.8],[148.3,-40.9],[148,-43],[146.5,-43.6],[145.3,-42.5]]],
 ["Saudi Arabia",[[34.9,29.5],[36.1,29.2],[37.5,31],[39,32.3],[41,31.4],[44.7,29.2],[46.5,29.1],[47.5,28.5],[48.7,28],[50,26.5],[50.8,24.8],[51.6,24.2],[55.2,22.7],[55.7,22],[55,20],[52,19],[49,18.6],[46.5,17.3],[43.2,16.7],[42.5,16.5],[39.2,21],[37.2,24.5],[35,28]]],
 ["Jordan",[[35,29.5],[35.5,32.4],[36,33.4],[39,32.3],[37.5,31],[36.1,29.2]]],
 ["Yemen",[[43.2,16.7],[46.5,17.3],[49,18.6],[52,19],[53,16.6],[49,14],[45,12.8],[43.5,12.7]]],
 ["Oman",[[52,19],[55,20],[55.7,22],[55.2,22.7],[56.2,24.9],[56.4,24.9],[58.7,23.5],[59.8,22.5],[57.8,19],[55,17],[53,16.6]]],
 ["Kuwait",[[46.5,29.1],[47.5,29.9],[48.4,28.5],[47.5,28.5]]],
 ["Qatar",[[50.8,24.8],[51.2,26.1],[51.6,25]]],
 ["Morocco",[[-5.9,35.8],[-2.2,35.1],[-1.2,32.2],[-3.7,30.9],[-8.7,28.7],[-8.7,27.3],[-12,26],[-12,23.4],[-13,21.3],[-17,21.3],[-16,23.5],[-14.5,26],[-13,27.7],[-9.8,29.8],[-9.3,32.5],[-6.8,34]]],
 ["Mauritania",[[-17,21.3],[-13,21.3],[-12,23.4],[-12,26],[-8.7,27.3],[-4.8,25],[-6.5,25],[-5.5,15.5],[-9.5,15.3],[-12.2,14.8],[-14.5,16.6],[-16.5,16],[-16,19]]],
 ["Ghana",[[-3,5.1],[-3,7],[-2.8,9.8],[-2.8,11],[0,11],[0.5,8],[1.2,6.1],[-1,5.2],[-2,4.8]]],
 ["Equatorial Guinea",[[9.8,2.3],[11.3,2.2],[11.3,1],[9.4,1]]],
 ["Cabinda",[[12,-5],[13,-4.4],[12.8,-5.8],[12.2,-5.8]]],
 ["Tunisia",[[8.5,37],[11,37],[10,34.5],[11.5,33.1],[9.8,30.2],[8.3,34.5]]],
 ["Libya",[[11.5,33.1],[15,32.3],[19,30.3],[20,32.5],[23,32.6],[25,31.6],[25,20],[24,19.5],[15,23],[14.2,22.7],[12,23.5],[9.5,27.5],[9.8,30.2]]],
 ["Sudan",[[24,19.5],[25,20],[25,22],[36.9,22],[37.4,18.5],[38.5,18],[36.5,14.3],[35,11],[34,9.5],[33,12],[32,11.5],[27,10],[24,9],[22.5,11],[24,15.7]]],
 ["South Sudan",[[24,9],[27,10],[32,11.5],[33,12],[34,9.5],[33,8],[35,5],[34,4.2],[31,3.7],[27.4,5]]],
 ["Eritrea",[[36.5,14.3],[38.5,18],[43,12.5],[40,15],[37,14.5]]],
 ["Ethiopia",[[36.5,14.3],[37,14.5],[40,15],[42.5,12.5],[43,11.4],[42.8,10.9],[48,8],[45,5],[42,4],[39.5,3.5],[35.8,4.7],[35,5],[33,8],[34,9.5],[35,11]]],
 ["Somalia",[[43,11.4],[45,10.5],[51.2,11.9],[50,8],[46,2.5],[41.5,-1.7],[41,-1],[41,3],[42,4],[45,5],[48,8],[42.8,10.9]]],
 ["Kenya",[[35.8,4.7],[39.5,3.5],[42,4],[41,3],[41,-1],[41.5,-1.7],[39.3,-4.6],[34,-1],[35,1.5],[34,4.2]]],
 ["Uganda",[[31,3.7],[34,4.2],[35,1.5],[34,-1],[29.7,-1.4],[29.7,-0.5]]],
 ["Rwanda and Burundi",[[29,-1.5],[30.8,-1.2],[30.5,-2.5],[30.7,-4],[29.5,-4.4],[29,-2.7]]],
 ["Tanzania",[[30,-1],[34,-1],[39.3,-4.6],[38.8,-6.5],[39.5,-8.5],[40.4,-10.4],[38,-11.5],[34.9,-11.5],[34,-9.5],[32.9,-9.4],[30.7,-8.2],[29.5,-4.4],[30.7,-4],[30.5,-2.5]]],
 ["Malawi",[[32.9,-9.4],[34,-9.5],[34.9,-11.5],[35.8,-14.5],[35,-17],[34,-14.5],[33,-14],[33.3,-11]]],
 ["Mozambique",[[34.9,-11.5],[38,-11.5],[40.4,-10.4],[40.7,-15],[37,-18],[34.9,-20],[35.5,-24],[32.9,-26],[32,-26.8],[32,-24.5],[31.2,-22.4],[33,-19.5],[33,-16],[30.2,-15.5],[33,-14],[34,-14.5],[35,-17],[35.8,-14.5]]],
 ["Zimbabwe",[[25.2,-17.8],[27,-17.9],[28.8,-16],[30.2,-15.5],[33,-16],[33,-19.5],[31.2,-22.4],[29,-22.2],[27,-20.5]]],
 ["Angola",[[12.2,-6],[16,-5.9],[17.5,-7],[21.8,-7.2],[22,-11],[22,-16.2],[23.5,-17.5],[20.8,-18],[14,-17.3],[11.8,-17.3],[13.5,-12],[13,-9]]],
 ["Namibia",[[11.8,-17.3],[14,-17.3],[20.8,-18],[25.2,-17.8],[21,-18.3],[21,-22],[20,-22],[20,-28.4],[17,-28.7],[15,-26.5],[14.4,-22.8],[12.5,-18.5]]],
 ["Botswana",[[21,-18.3],[25.2,-17.8],[27,-20.5],[29,-22.2],[26,-24.7],[23,-25.3],[20.7,-26.8],[20,-24.8],[20,-22],[21,-22]]],
 ["South Africa",[[17,-28.7],[20,-28.4],[20.7,-26.8],[23,-25.3],[26,-24.7],[29,-22.2],[31.2,-22.4],[32,-24.5],[32,-26.8],[32.9,-26.9],[31,-30],[28,-33],[25.7,-34],[20,-34.8],[18.4,-34.2],[18,-32]]],
 ["Lesotho",[[27.2,-29.5],[29,-29],[28.7,-30.5],[27.5,-30.5]]],
 ["Madagascar",[[49.3,-12],[50.4,-16],[49,-20],[47,-25],[45,-25.5],[43.5,-23],[44.3,-20],[44,-17],[46.3,-15.7],[48,-14]]],
 ["Guatemala",[[-92.2,14.6],[-91.5,16],[-91,17.2],[-89.2,17.8],[-88.3,15.9],[-89.5,14.3],[-91,13.9]]],
 ["Honduras",[[-89.5,14.3],[-88.3,15.9],[-84,15.8],[-83.2,15],[-85,13],[-87.5,13]]],
 ["Nicaragua",[[-87.6,13],[-85,13],[-83.2,15],[-83.7,11],[-85.7,11]]],
 ["Panama and Costa Rica",[[-85.7,11],[-83.7,11],[-82.5,9.5],[-79.5,9.6],[-77.4,8.7],[-78,7.5],[-80.5,7.3],[-83,8.2],[-85.5,10]]],
 ["Cuba",[[-85,21.8],[-80,23.2],[-74.2,20.2],[-77.5,19.9],[-78.5,21],[-82,22.5]]],
 ["Hispaniola",[[-74.3,18.5],[-73,19.9],[-68.4,18.6],[-71.5,17.8]]],
 ["Jamaica",[[-78.3,18.3],[-76.3,18],[-77,17.8]]],
 ["Puerto Rico",[[-67.2,18.4],[-65.7,18.3],[-66,18]]],
 ["Colombia",[[-77.4,8.7],[-75.5,10.7],[-72,12.3],[-71.5,11],[-72.8,9],[-72,7],[-67.5,6.2],[-67.5,2],[-70,1.5],[-69.8,-4.2],[-70.5,-3],[-73,-2.4],[-75,-0.1],[-78,0.9],[-79,1.5],[-77.3,4],[-77.4,7]]],
 ["Venezuela",[[-72,12.3],[-68,10.8],[-62,10.7],[-60,8.4],[-61,4.5],[-64,4],[-64,1.5],[-67,1.5],[-67.5,2],[-67.5,6.2],[-72,7],[-72.8,9],[-71.5,11]]],
 ["Guyana",[[-60,8.4],[-57,6],[-58,2],[-60,1.3],[-61,4.5]]],
 ["Suriname",[[-57,6],[-54,5.8],[-54.5,2.3],[-58,2]]],
 ["French Guiana",[[-54,5.8],[-51.7,4.2],[-53,2.2],[-54.5,2.3]]],
 ["Ecuador",[[-80,1],[-78,0.9],[-75,-0.1],[-75.5,-1.5],[-79,-5],[-80.3,-3.4],[-81,-2]]],
 ["Bolivia",[[-69.8,-11],[-65.4,-9.8],[-60.5,-13.7],[-58,-16.3],[-58,-20],[-60,-19.3],[-62.6,-22.2],[-66.5,-22],[-67,-22.9],[-68.5,-20],[-69,-18],[-69,-16],[-69,-12.5]]],
 ["Uruguay",[[-58.4,-34],[-58.2,-30.2],[-55.8,-30.8],[-53.5,-33.5],[-54.5,-34.8],[-57,-34.5]]],
 ["Brazil",[[-64,4],[-61,4.5],[-60,1.3],[-58,2],[-54.5,2.3],[-53,2.2],[-51.7,4.2],[-50,1.5],[-50,0],[-48,-0.8],[-44.5,-2.5],[-40,-2.8],[-37,-4.8],[-35,-5.5],[-34.8,-8],[-37,-11.5],[-39,-14],[-39.3,-18],[-41,-22],[-44,-23],[-48,-25.3],[-48.6,-28],[-50.5,-31],[-53.5,-33.5],[-55.8,-30.8],[-58.2,-30.2],[-55.8,-28.5],[-53.7,-26.3],[-54.5,-25.5],[-55.5,-24],[-57.8,-22],[-58,-20],[-58,-16.3],[-60.5,-13.7],[-65.4,-9.8],[-69.8,-11],[-73,-9.5],[-73,-7],[-69.8,-4.2],[-70,1.5],[-67,1.5],[-64,1.5]]],
 ["Antarctica",[[-180,-85.4],[-161,-85.7],[-139,-85.7],[-152.9,-85.2],[-152.9,-84],[-156.3,-82.2],[-145.8,-81.2],[-156.3,-79.8],[-157.6,-78.3],[-145.8,-78.3],[-148.2,-76.8],[-135.4,-75.6],[-114.2,-74.8],[-110.8,-75.8],[-100.4,-75.8],[-102.7,-73.8],[-81.6,-74.6],[-67,-73.3],[-67.8,-71.6],[-67.2,-67.9],[-63,-65.4],[-57,-64],[-63,-66.7],[-65.4,-69.1],[-61,-73.3],[-64.1,-76],[-71.2,-77.3],[-78.7,-76.5],[-73.5,-78.5],[-81.6,-78.5],[-84,-79],[-76.4,-81],[-58.9,-83.5],[-50.3,-82.7],[-28.6,-81],[-36.2,-79.5],[-23.4,-76.8],[-16.3,-74.8],[-11.6,-72.3],[-1.4,-72.1],[10.8,-71.6],[32,-69.9],[39.3,-69.9],[52.9,-66.9],[69.6,-68.6],[67.8,-72.8],[72.7,-72.3],[80,-68.4],[100.9,-67.2],[134.3,-67.2],[146.6,-69.4],[170.6,-72.3],[162.8,-76.5],[165.7,-79],[158.4,-81],[163.8,-83.2],[180,-85.2],[180,-90.7],[-180,-90.7]]],
 ["Alexander Island",[[-71.8,-69.6],[-68.7,-73],[-72.4,-73],[-74.5,-72.1]]],
 ["Berkner Island",[[-55,-81.5],[-50.3,-79],[-44.3,-79],[-43.7,-80.7]]],
 ["Thurston Island",[[-163,-79.8],[-159,-80.5],[-163,-80.2]]]
];

const titleText = "Annex: World Map of Approaches to the Law Governing the Arbitration Agreement";
const creditText = "CC BY-SA 3.0 Peeperman/SharkD (remix), https://commons.wikimedia.org.";
const legendTitle = "Applicable Law";

function regionSets(list, colour){
  return list.map(([name, pts]) => ({
    label: name,
    data: pts.concat([pts[0]]).map(p => ({x:p[0], y:p[1]})),
    showLine: true, fill: 'shape', tension: 0.001,
    backgroundColor: colour, borderColor: name==="Antarctica" ? colour : "#FFFFFF",
    borderWidth: 0.7, pointRadius: 0, pointHoverRadius: 0
  }));
}
const groups = [seatLand, contractLand, validationLand, intentLand];
const datasets = regionSets(otherLand, otherColour);
groups.forEach((g,i) => datasets.push(...regionSets(g, colours[i])));

function swatch(colour){
  const c = document.createElement('canvas'); c.width = 24; c.height = 18;
  const x = c.getContext('2d');
  x.fillStyle = colour; x.fillRect(0,0,20,18);
  x.strokeStyle = "rgba(110,110,110,0.55)"; x.lineWidth = 1; x.strokeRect(0.5,0.5,19,17);
  return c;
}
const placeLegend = { id:'placeLegend', afterLayout(chart){
  const l = chart.legend; l.left = 41.5; l.top = 443; l.right = 330; l.bottom = 592; l.width = 141; l.height = 149;
}};

new Chart(document.getElementById('c'), {
  type: 'scatter',
  data: { datasets },
  plugins: [placeLegend],
  options: {
    responsive: false, animation: false, devicePixelRatio: 1,
    layout: { padding: { left: 8, right: 37, top: 0, bottom: 0 } },
    events: [],
    scales: {
      x: { type:'linear', bounds:'data', suggestedMin: -182.09, suggestedMax: 182.35, display: false },
      y: { type:'linear', bounds:'data', suggestedMin: -93.28, suggestedMax: 86.57, display: false }
    },
    plugins: {
      tooltip: { enabled:false },
      title: { display:true, text:titleText, fullSize:false, color:"#000", font:{family:"'Liberation Serif'", size:23.4, weight:'bold'}, padding:{top:13.5,bottom:7.82} },
      subtitle: { display:true, position:'bottom', align:'end', text:creditText, color:"#111", font:{family:"'Liberation Serif'", size:19.66}, padding:{top:9.4,bottom:21.2} },
      legend: {
        display:true, position:'chartArea', align:'start',
        title:{ display:true, position:'center', text:legendTitle, color:"#000", padding:0.8, font:{family:"'Liberation Serif'", size:17, weight:'bold'} },
        labels:{
          usePointStyle:true, pointStyleWidth:24, boxHeight:18, padding:11.5, color:"#222",
          font:{family:"'Liberation Serif'", size:15},
          generateLabels(){ return categories.map((t,i)=>({text:t, pointStyle:swatch(colours[i]), fontColor:"#222", datasetIndex:i})); }
        }
      }
    }
  }
});
</script></body></html>
